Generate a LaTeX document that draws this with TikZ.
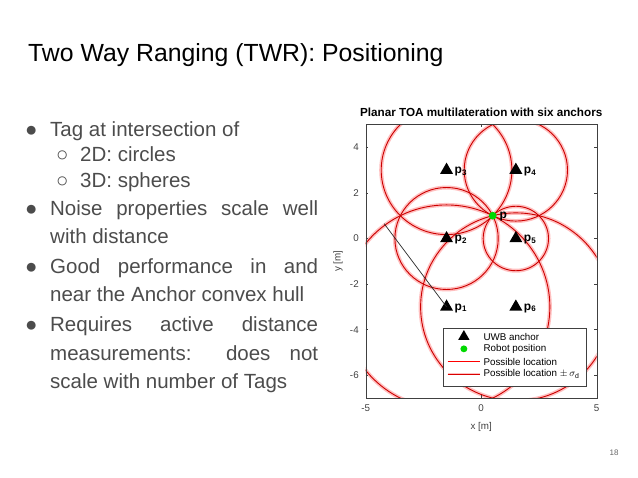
\documentclass[tikz,border=0pt]{standalone}
\usepackage{fontspec}
\setmainfont{Liberation Sans}
\usetikzlibrary{shapes.geometric}
\begin{document}
\begin{tikzpicture}[x=1pt,y=-1pt,
  bul/.style={anchor=base west,text=black!70,font=\fontsize{20.5}{24}\selectfont,inner sep=0},
  tick/.style={font=\fontsize{9.8}{11}\selectfont,text=black!75},
  glow/.style={red!25,line width=4pt},
  circ/.style={red!80!black,line width=0.9pt},
  anc/.style={regular polygon,regular polygon sides=3,fill=black,inner sep=0,minimum size=15pt},
  lab/.style={font=\bfseries\fontsize{12}{13}\selectfont,anchor=west,inner sep=1pt}]
\useasboundingbox (0,0) rectangle (638,478);
\node[anchor=base west,inner sep=0,font=\fontsize{24.8}{28}\selectfont] (title) at (28,62) {Two Way Ranging (TWR): Positioning};
\node[bul] (l1) at (25,137) {\makebox[25pt][l]{●}Tag at intersection of};
\node[bul] (l2) at (56,162) {\makebox[24pt][l]{○}2D: circles};
\node[bul] (l3) at (56,188) {\makebox[24pt][l]{○}3D: spheres};
\node[bul] (l4) at (25,216) {\makebox[25pt][l]{●}\makebox[268pt][s]{Noise properties scale well}};
\node[bul] (l5) at (50,244) {with distance};
\node[bul] (l6) at (25,274) {\makebox[25pt][l]{●}\makebox[268pt][s]{Good performance in and}};
\node[bul] (l7) at (50,302) {near the Anchor convex hull};
\node[bul] (l8) at (25,332) {\makebox[25pt][l]{●}\makebox[268pt][s]{Requires active distance}};
\node[bul] (l9) at (50,361) {\makebox[268pt][s]{measurements: does not}};
\node[bul] (l10) at (50,389) {scale with number of Tags};
\node[font=\fontsize{8}{9}\selectfont,text=black!60] (pg) at (614,453) {18};
\begin{scope}[shift={(481.2,238.5)},x=23.1pt,y=22.8pt]
  \node[font=\bfseries\fontsize{11.7}{13}\selectfont] (pt) at (0,5.55) {Planar TOA multilateration with six anchors};
  \begin{scope}
    \clip (-5,-7) rectangle (5,5);
    \foreach \cx/\cy/\r in {-1.5/-3/4.4721,-1.5/0/2.2361,-1.5/3/2.8284,1.5/3/2.2361,1.5/0/1.4142,1.5/-3/4.1231}{
      \draw[glow] (\cx,\cy) circle[radius=\r];
    }
    \foreach \cx/\cy/\r in {-1.5/-3/4.4721,-1.5/0/2.2361,-1.5/3/2.8284,1.5/3/2.2361,1.5/0/1.4142,1.5/-3/4.1231}{
      \draw[circ] (\cx,\cy) circle[radius=\r];
    }
  \end{scope}
  \draw[black!75,line width=0.4pt] (-5,-7) rectangle (5,5);
  \foreach \v in {-5,0,5}{\draw[black!75] (\v,-7) -- ++(0,0.12); \draw[black!75] (\v,5) -- ++(0,-0.12);
    \node[tick,anchor=north] at (\v,-7.15) {\v};}
  \foreach \v in {-6,-4,-2,0,2,4}{\draw[black!75] (-5,\v) -- ++(0.12,0); \draw[black!75] (5,\v) -- ++(-0.12,0);
    \node[tick,anchor=east] at (-5.15,\v) {\v};}
  \node[tick] (xl) at (0,-8.25) {x [m]};
  \node[tick,rotate=90] (yl) at (-6.2,-1) {y [m]};
  \node[anc] (p1) at (-1.5,-3) {}; \node[lab] at (-1.2,-3.05) {p$_{\mathbf 1}$};
  \node[anc] (p2) at (-1.5,0) {}; \node[lab] at (-1.2,-0.05) {p$_{\mathbf 2}$};
  \node[anc] (p3) at (-1.5,3) {}; \node[lab] at (-1.2,2.95) {p$_{\mathbf 3}$};
  \node[anc] (p4) at (1.5,3) {}; \node[lab] at (1.8,2.95) {p$_{\mathbf 4}$};
  \node[anc] (p5) at (1.5,0) {}; \node[lab] at (1.8,-0.05) {p$_{\mathbf 5}$};
  \node[anc] (p6) at (1.5,-3) {}; \node[lab] at (1.8,-3.05) {p$_{\mathbf 6}$};
  \fill[green!85!black] (0.5,1) circle[radius=0.17];
  \node[lab] (p) at (0.75,0.95) {p};
  \coordinate (re) at (-4.2,0.65);
  \draw[black!85,line width=0.7pt] (p1.center) -- (re);
  % legend
  \draw[black!75,fill=white] (-1.65,-3.95) rectangle (4.55,-6.5);
  \node[anc,minimum size=13pt] (la) at (-0.75,-4.3) {};
  \fill[green!85!black] (-0.75,-4.84) circle[radius=0.15];
  \draw[red,line width=0.8pt] (-1.45,-5.4) -- (-0.05,-5.4);
  \draw[glow,line width=2.5pt] (-1.45,-5.95) -- (-0.05,-5.95);
  \draw[red!85!black,line width=1.3pt] (-1.45,-5.95) -- (-0.05,-5.95);
  \foreach \t/\yy in {UWB anchor/-4.3,Robot position/-4.84,Possible location/-5.4}{
    \node[tick,anchor=west,text=black] at (-0.05,\yy) {\t};}
  \node[tick,anchor=west,text=black] at (-0.05,-5.95) {Possible location $\pm\,\sigma_{\mathrm d}$};
\end{scope}
\end{tikzpicture}
\end{document}
